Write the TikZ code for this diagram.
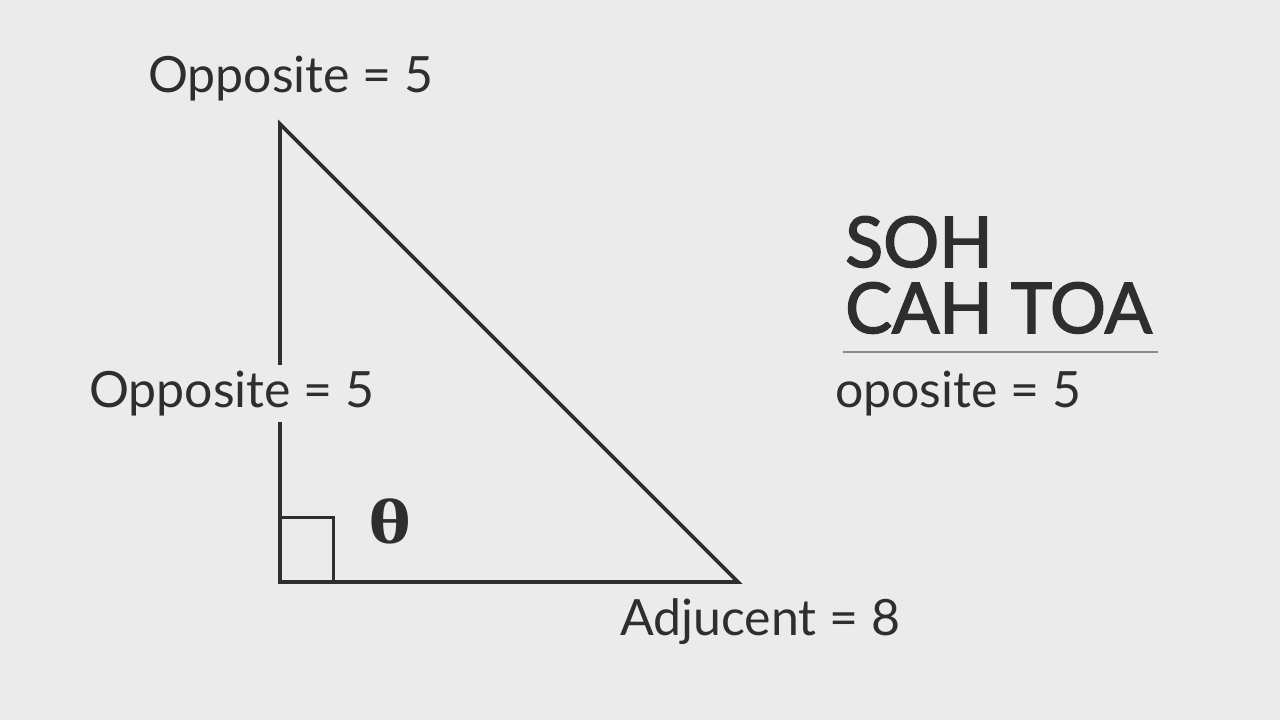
\documentclass[tikz,border=0pt]{standalone}
\usepackage{fontspec}
\setmainfont{Lato}
\newfontfamily\thetafont{Liberation Serif}
\usepackage{xcolor}
\usepackage{tikz}
\usetikzlibrary{positioning}
\definecolor{bggray}{HTML}{EBEBEB}
\definecolor{inkgray}{HTML}{2E2E2E}
\definecolor{rulegray}{HTML}{8A8A8A}

\begin{document}
\begin{tikzpicture}[x=1pt, y=-1pt,
  side/.style={line width=3.6pt, draw=inkgray, line join=miter},
  label/.style={text=inkgray, font=\fontsize{50}{60}\selectfont, inner sep=0pt, anchor=base west},
  mnemonic/.style={text=inkgray, font=\fontsize{70}{80}\selectfont\addfontfeature{FakeBold=2.2}, inner sep=0pt, anchor=base west}]
  \fill[bggray] (0,0) rectangle (1280,720);
  \useasboundingbox (0,0) rectangle (1280,720);
  \coordinate (Top) at (280,124);
  \coordinate (Corner) at (280,582);
  \coordinate (Right) at (738,582);
  \draw[side] (Top) -- (Corner) -- (Right) -- cycle;
  \draw[line width=3pt, draw=inkgray] (280,517) -- (333,517) -- (333,582);
  \node[label] (OppTop) at (148,92) {Opposite = 5};
  \node[label, fill=bggray, inner ysep=6pt] (OppSide) at (89,407) {Opposite = 5};
  \node[label] (Adj) at (620,635) {Adjucent = 8};
  \node[text=inkgray, font=\thetafont\fontsize{64}{70}\selectfont\bfseries, inner sep=0pt, xscale=1.3, transform shape] (Theta) at (390,521) {θ};
  \node[mnemonic] (Soh) at (845,267) {SOH};
  \node[mnemonic] (Cahtoa) at (845,333) {CAH TOA};
  \coordinate (RuleL) at (843,352);
  \coordinate (RuleR) at (1158,352);
  \draw[line width=1.4pt, draw=rulegray] (RuleL) -- (RuleR);
  \node[label] (Opos) at (835,407) {oposite = 5};
\end{tikzpicture}
\end{document}
